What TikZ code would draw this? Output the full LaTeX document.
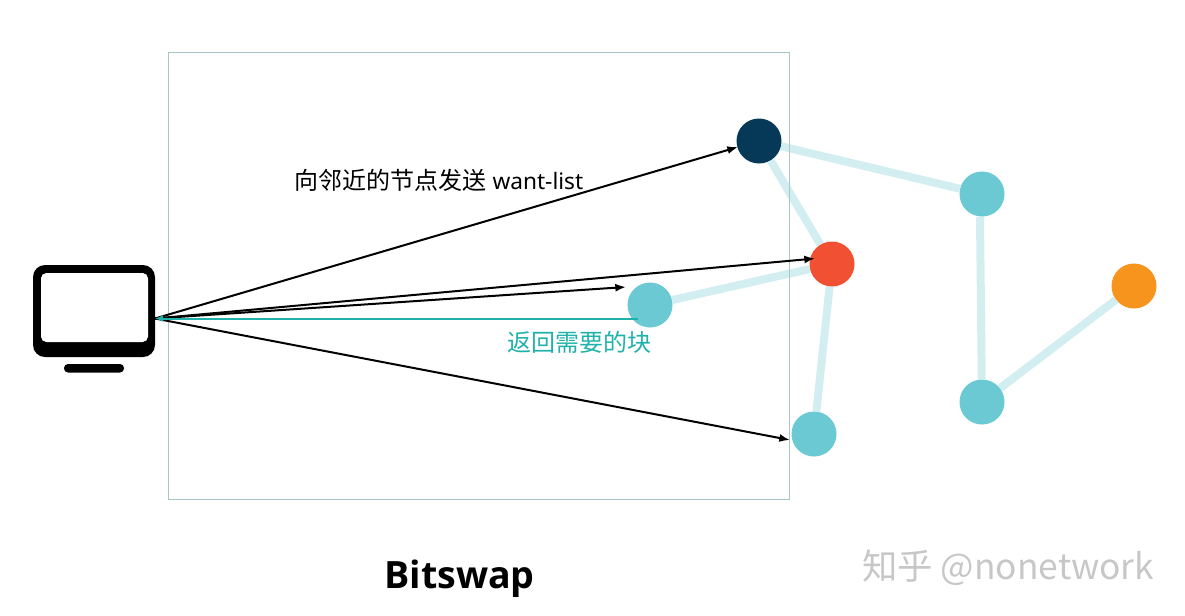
\documentclass[tikz,border=0pt]{standalone}
\usepackage{xcolor}
\usepackage{fontspec}
\setmainfont{Noto Sans}
\newfontfamily\cjk{Noto Sans CJK SC}
\newfontfamily\titlefont{Open Sans}
\usetikzlibrary{arrows.meta,backgrounds}
\definecolor{linkcolor}{RGB}{210,238,241}
\definecolor{peercolor}{RGB}{106,201,210}
\definecolor{darkcolor}{RGB}{5,57,87}
\definecolor{redcolor}{RGB}{241,80,50}
\definecolor{orangecolor}{RGB}{247,148,30}
\definecolor{backcolor}{RGB}{32,178,170}
\definecolor{framecolor}{RGB}{170,198,198}
\tikzset{
  peer/.style={circle,minimum size=33.75pt,inner sep=0pt,fill=#1},
  link/.style={draw=linkcolor,line width=6pt},
  want/.style={draw=black,line width=1.5pt,-{Latex[length=8pt,width=6pt]}},
  back/.style={draw=backcolor,line width=1.5pt,-{Latex[length=6pt,width=5pt]}},
}

\begin{document}
\begin{tikzpicture}[x=0.75pt,y=0.75pt,yscale=-1,xscale=1]
\useasboundingbox (0,0) rectangle (1185,615);

%Frame
\draw [framecolor,line width=0.75pt] (168.5,52.5) rectangle (789.5,499.5);

%Peers
\node [peer=darkcolor] (dark) at (759,141) {};
\node [peer=redcolor] (red) at (832,264) {};
\node [peer=peercolor] (near) at (650,305) {};
\node [peer=peercolor] (low) at (814,434) {};
\node [peer=peercolor] (upper) at (982,194) {};
\node [peer=peercolor] (lower) at (982,402) {};
\node [peer=orangecolor] (far) at (1134,286) {};

%Links
\begin{scope}[on background layer]
\draw [link] (dark) -- (upper);
\draw [link] (dark) -- (red);
\draw [link] (red) -- (near);
\draw [link] (red) -- (low);
\draw [link] (upper.south) ++(-2,0) -- (lower);
\draw [link] (lower) -- (far);
\end{scope}

%Monitor
\fill [black,rounded corners=9pt] (33,265) rectangle (155,357);
\fill [white,rounded corners=4pt] (41,273) rectangle (148,342);
\fill [black,rounded corners=3pt] (64,364) rectangle (124,372.5);

%Arrows
\coordinate (hub) at (155,318.5);
\coordinate (tipdark) at (738,147);
\coordinate (tipred) at (815,258.5);
\coordinate (tipnear) at (626,287);
\coordinate (tiplow) at (790,440);
\coordinate (startback) at (638,318.5);
\draw [want] (hub) -- (tipdark);
\draw [want] (hub) -- (tipred);
\draw [want] (hub) -- (tipnear);
\draw [want] (hub) -- (tiplow);
\draw [back] (startback) -- (hub);

%Text
\node [anchor=west,inner sep=0pt,font=\fontsize{18pt}{22pt}\selectfont] (ask) at (294,180) {{\cjk 向邻近的节点发送} {\fontsize{17pt}{22pt}\selectfont want-list}};
\node [anchor=west,inner sep=0pt,text=backcolor,font=\fontsize{18pt}{22pt}\selectfont\cjk] (answer) at (507,342) {返回需要的块};
\node [anchor=west,inner sep=0pt,font=\fontsize{28.2pt}{34pt}\selectfont\titlefont\bfseries] (title) at (384,579) {Bitswap};
\node [anchor=west,inner sep=0pt,text=black!22,font=\fontsize{26.5pt}{30pt}\selectfont\cjk] (mark) at (862,568) {知乎 @nonetwork};
\end{tikzpicture}
\end{document}
